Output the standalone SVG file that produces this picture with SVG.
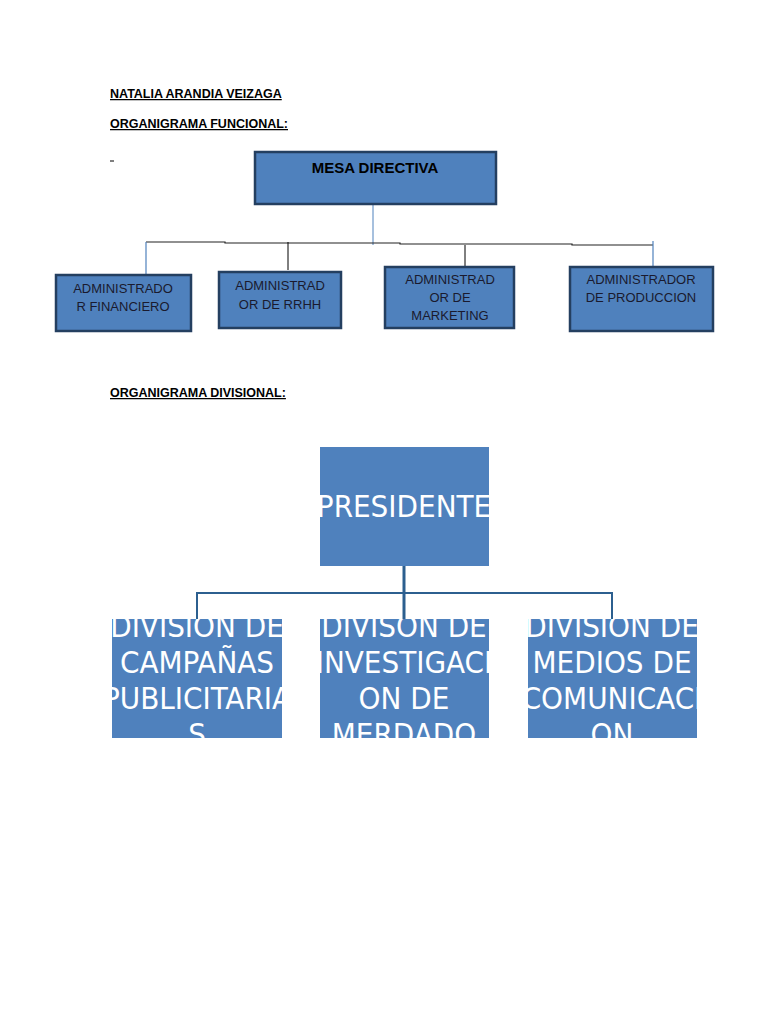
<svg xmlns="http://www.w3.org/2000/svg" width="768" height="1024" viewBox="0 0 768 1024">
<style>
.h{font-family:"Liberation Sans",Arial,sans-serif;font-size:12.5px;font-weight:bold;text-decoration:underline;fill:#000}
.b1{fill:#4f81bd;stroke:#243f60;stroke-width:2.5}
.t1{font-family:"Liberation Sans",Arial,sans-serif;font-size:13px;fill:#1a1a2e;text-anchor:middle}
.b2{fill:#4f81bd}
.t2{font-family:"DejaVu Sans Condensed","DejaVu Sans",sans-serif;font-stretch:condensed;font-size:31px;fill:#fff;text-anchor:middle}
</style>
<defs>
<clipPath id="c1"><rect x="112" y="619" width="170" height="119"/></clipPath>
<clipPath id="c2"><rect x="320" y="619" width="169" height="119"/></clipPath>
<clipPath id="c3"><rect x="528" y="619" width="169" height="119"/></clipPath>
</defs>
<rect width="768" height="1024" fill="#fff"/>
<text class="h" x="110" y="98">NATALIA ARANDIA VEIZAGA</text>
<text class="h" x="110" y="128">ORGANIGRAMA FUNCIONAL:</text>
<text class="h" x="110" y="160"> </text>
<line x1="110" y1="161" x2="114" y2="161" stroke="#000" stroke-width="1"/>
<text class="h" x="110" y="397">ORGANIGRAMA DIVISIONAL:</text>
<g id="connectors" fill="none">
<line x1="373" y1="204" x2="373" y2="245" stroke="#4f81bd" stroke-width="1"/>
<polyline points="146,242 225,242 225,243 400,243 400,244 572,244 572,245 653,245" stroke="#222" stroke-width="1.2"/>
<line x1="146" y1="242" x2="146" y2="275" stroke="#4f81bd" stroke-width="1.2"/>
<line x1="288" y1="242" x2="288" y2="270" stroke="#000" stroke-width="1"/>
<line x1="465" y1="245" x2="465" y2="266" stroke="#000" stroke-width="1"/>
<line x1="653" y1="241" x2="653" y2="266" stroke="#4f81bd" stroke-width="1.2"/>
<line x1="404" y1="566" x2="404" y2="619" stroke="#2c5f8f" stroke-width="3"/>
<polyline points="197,619 197,593 612,593 612,619" stroke="#2c5f8f" stroke-width="2"/>
</g>
<g id="mesa"><rect class="b1" x="255" y="152" width="241" height="52"/>
<text x="375" y="173" font-family="Liberation Sans,Arial,sans-serif" font-size="15" font-weight="bold" text-anchor="middle" fill="#000">MESA DIRECTIVA</text></g>
<g id="fin"><rect class="b1" x="56" y="275" width="135" height="56"/>
<text class="t1" x="123" y="293">ADMINISTRADO</text><text class="t1" x="123" y="311">R FINANCIERO</text></g>
<g id="rrhh"><rect class="b1" x="219" y="272" width="122" height="56"/>
<text class="t1" x="280" y="290">ADMINISTRAD</text><text class="t1" x="280" y="309">OR DE RRHH</text></g>
<g id="mkt"><rect class="b1" x="385" y="267" width="129" height="61"/>
<text class="t1" x="450" y="284">ADMINISTRAD</text><text class="t1" x="450" y="302">OR DE</text><text class="t1" x="450" y="320">MARKETING</text></g>
<g id="prod"><rect class="b1" x="570" y="267" width="143" height="64"/>
<text class="t1" x="641" y="284">ADMINISTRADOR</text><text class="t1" x="641" y="302">DE PRODUCCION</text></g>
<g id="presidente"><rect class="b2" x="320" y="447" width="169" height="119"/>
<text class="t2" x="404" y="517">PRESIDENTE</text></g>
<g id="div1"><rect class="b2" x="112" y="619" width="170" height="119"/>
<g clip-path="url(#c1)"><text class="t2" x="197" y="637">DIVISIÓN DE</text><text class="t2" x="197" y="673">CAMPAÑAS</text><text class="t2" x="197" y="709">PUBLICITARIA</text><text class="t2" x="197" y="745">S</text></g></g>
<g id="div2"><rect class="b2" x="320" y="619" width="169" height="119"/>
<g clip-path="url(#c2)"><text class="t2" x="404" y="637">DIVISÓN DE</text><text class="t2" x="404" y="673">INVESTIGACI</text><text class="t2" x="404" y="709">ON DE</text><text class="t2" x="404" y="745">MERDADO</text></g></g>
<g id="div3"><rect class="b2" x="528" y="619" width="169" height="119"/>
<g clip-path="url(#c3)"><text class="t2" x="612" y="637">DIVISIÓN DE</text><text class="t2" x="612" y="673">MEDIOS DE</text><text class="t2" x="612" y="709">COMUNICACI</text><text class="t2" x="612" y="745">ON</text></g></g>
</svg>
